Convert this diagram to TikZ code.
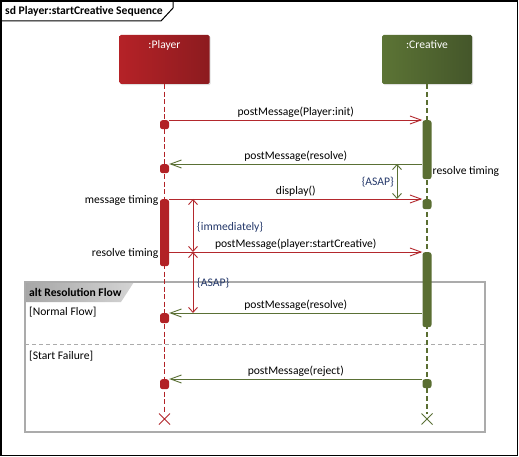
\documentclass[tikz,border=0pt]{standalone}
\usepackage{fontspec}
\setmainfont{Carlito}
\usetikzlibrary{shapes.misc,arrows.meta,calc,shadows}
\definecolor{pr1}{HTML}{B52227}
\definecolor{pr2}{HTML}{8C1B1F}
\definecolor{cg1}{HTML}{5C7435}
\definecolor{cg2}{HTML}{44562A}
\definecolor{redl}{HTML}{B3282D}
\definecolor{grnl}{HTML}{5A7035}
\definecolor{actr}{HTML}{B22226}
\definecolor{actg}{HTML}{5A6E32}
\definecolor{framegray}{HTML}{ABABAB}
\definecolor{tabg1}{HTML}{A6A6A6}
\definecolor{tabg2}{HTML}{D4D4D4}
\definecolor{cblue}{HTML}{24386A}
\begin{document}
\begin{tikzpicture}[x=1pt,y=-1pt,
  font=\fontsize{11.6}{13}\selectfont,
  lifebox/.style={rectangle,minimum width=90pt,minimum height=49pt,inner sep=0pt,rounded corners=1.5pt,
     drop shadow={opacity=0.25,shadow xshift=1.2pt,shadow yshift=-1.2pt}},
  boxtext/.style={text=white,inner sep=0pt},
  actR/.style={rectangle,fill=actr,minimum width=9pt,inner sep=0pt,rounded corners=2.5pt,anchor=north},
  actG/.style={rectangle,fill=actg,minimum width=9pt,inner sep=0pt,rounded corners=2.5pt,anchor=north},
  lifeR/.style={draw=actr,line width=1.5pt,dash pattern=on 5pt off 2.5pt},
  lifeG/.style={draw=actg,line width=1.4pt,dash pattern=on 5pt off 3pt},
  msgR/.style={draw=redl,line width=0.9pt,-{Straight Barb[length=11pt,width=8pt]}},
  msgG/.style={draw=grnl,line width=0.9pt,-{Straight Barb[length=11pt,width=8pt]}},
  consR/.style={draw=redl,line width=0.9pt,{Straight Barb[length=5pt,width=9pt]}-{Straight Barb[length=5pt,width=9pt]}},
  consG/.style={draw=grnl,line width=0.9pt,{Straight Barb[length=5pt,width=9pt]}-{Straight Barb[length=5pt,width=9pt]}},
  lbl/.style={inner sep=0pt,anchor=south,yshift=2pt},
  txt/.style={inner sep=0pt},
  ctext/.style={inner sep=0pt,text=cblue},
  destroyR/.style={cross out,draw=redl,line width=1pt,minimum size=10pt,inner sep=0pt},
  destroyG/.style={cross out,draw=grnl,line width=1pt,minimum size=10pt,inner sep=0pt},
]
\useasboundingbox (0,0) rectangle (519,457);
\fill[white] (0,0) rectangle (519,457);

% outer frame
\draw[line width=1.2pt] (1,1) rectangle (517.5,455.5);
\draw[line width=1pt] (1,21) -- (161,21) -- (173,8) -- (173,1);
\node[txt,anchor=west,font=\fontsize{11.6}{13}\selectfont\bfseries] (title) at (5,11.5) {sd Player:startCreative Sequence};

% alt fragment
\shade[left color=tabg1,right color=tabg2] (25,282) -- (134,282) -- (121,302) -- (25,302) -- cycle;
\draw[framegray,line width=2pt] (25,282) rectangle (485,432);
\node[txt,anchor=west,font=\fontsize{11.6}{13}\selectfont\bfseries] (alttitle) at (29,292) {alt Resolution Flow};
\node[txt,anchor=west] (g1) at (29,312) {[Normal Flow]};
\node[txt,anchor=west] (g2) at (29,356) {[Start Failure]};
\draw[framegray,line width=1pt,dash pattern=on 4pt off 3pt] (25,344) -- (485,344);

% lifeline heads
\node[lifebox,left color=pr1,right color=pr2] (player) at (164.5,59.5) {};
\node[boxtext] (playerT) at (164.5,45) {:Player};
\node[lifebox,left color=cg1,right color=cg2] (creative) at (427,59.5) {};
\node[boxtext] (creativeT) at (427,45) {:Creative};

% destroy marks
\node[destroyR] (xP) at (164.5,419) {};
\node[destroyG] (xC) at (427,419) {};

% lifelines
\draw[lifeR] (player.south) -- (xP.north);
\draw[lifeG] (creative.south) -- (xC.north);

% activations
\node[actR,minimum height=9pt] (pA1) at (164.5,120) {};
\node[actG,minimum height=59pt] (cA1) at (427,120) {};
\node[actR,minimum height=9pt] (pA2) at (164.5,164) {};
\node[actG,minimum height=10pt] (cA2) at (427,199) {};
\node[actR,minimum height=67pt] (pA3) at (164.5,199) {};
\node[actG,minimum height=75pt] (cA3) at (427,252) {};
\node[actR,minimum height=10pt] (pA4) at (164.5,313) {};
\node[actR,minimum height=10pt] (pA5) at (164.5,379) {};
\node[actG,minimum height=9pt] (cA4) at (427,379) {};

% messages
\draw[msgR] (pA1.north east) -- node[lbl,text=black] {postMessage(Player:init)} (pA1.north -| cA1.west);
\draw[msgG] (pA2.north -| cA1.west) -- node[lbl,text=black] {postMessage(resolve)} (pA2.north east);
\draw[msgR] (pA3.north east) -- node[lbl,text=black] {display()} (cA2.north west);
\draw[msgR] (cA3.north -| pA3.east) -- node[lbl,text=black] {postMessage(player:startCreative)} (cA3.north west);
\draw[msgG] (pA4.north -| cA3.west) -- node[lbl,text=black] {postMessage(resolve)} (pA4.north east);
\draw[msgG] (cA4.north west) -- node[lbl,text=black] {postMessage(reject)} (pA5.north east);

% timing constraints
\coordinate (k1t) at (397,164);
\coordinate (k1b) at (397,199);
\coordinate (k2t) at (193,199);
\coordinate (k2m) at (193,252);
\coordinate (k2b) at (193,313);
\draw[consG] (k1t) -- (k1b);
\draw[consR] (k2t) -- (k2m);
\draw[consR] (k2m) -- (k2b);
\node[ctext,anchor=east] (asap1) at (394,182) {\{ASAP\}};
\node[ctext,anchor=west] (imm) at (197,227) {\{immediately\}};
\node[ctext,anchor=west] (asap2) at (197,283) {\{ASAP\}};

% timing labels
\node[txt,anchor=east] (mt) at (158.5,200) {message timing};
\node[txt,anchor=east] (rt1) at (158.5,253) {resolve timing};
\node[txt,anchor=west] (rt2) at (432.5,171) {resolve timing};
\end{tikzpicture}
\end{document}
